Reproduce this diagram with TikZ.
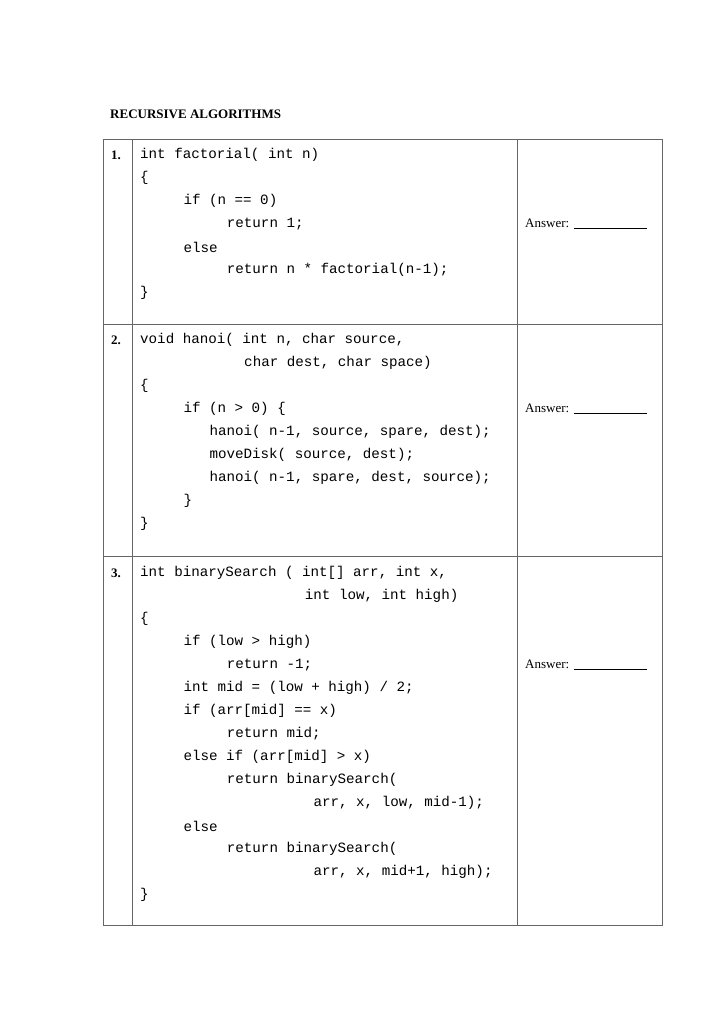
\documentclass[tikz,border=0pt]{standalone}
\usepackage{fontspec}
\setmainfont{Liberation Serif}
\setmonofont{Liberation Mono}
\newcommand{\cl}[4]{\node[code] (#1) at ({140+8.67*#2},#3) {#4};}
\begin{document}
\begin{tikzpicture}[x=1pt,y=-1pt,
  code/.style={anchor=west,inner sep=0pt,font=\fontsize{14.2}{14.2}\selectfont\ttfamily},
  lab/.style={anchor=west,inner sep=0pt,font=\fontsize{13}{13}\selectfont\bfseries},
  ans/.style={anchor=west,inner sep=0pt,font=\fontsize{13}{13}\selectfont},
  grid/.style={draw=black!60,line width=0.6pt}]
\useasboundingbox (0,0) rectangle (724,1024);
\node[lab,anchor=west] (title) at (110,114) {RECURSIVE ALGORITHMS};
\draw[grid] (103,139) rectangle (662,925);
\draw[grid] (132,139) -- (132,925);
\draw[grid] (517,139) -- (517,925);
\draw[grid] (103,324) -- (662,324);
\draw[grid] (103,556) -- (662,556);
\node[lab] (n1) at (111,155) {1.};
\node[lab] (n2) at (111,340) {2.};
\node[lab] (n3) at (111,573) {3.};
\node[ans] (a1) at (525,224) {Answer: \underline{\hspace{73pt}}};
\node[ans] (a2) at (525,409) {Answer: \underline{\hspace{73pt}}};
\node[ans] (a3) at (525,665) {Answer: \underline{\hspace{73pt}}};
% row 1
\cl{r1a}{0}{155}{int factorial( int n)}
\cl{r1b}{0}{178}{\{}
\cl{r1c}{5}{201}{if (n == 0)}
\cl{r1d}{10}{224}{return 1;}
\cl{r1e}{5}{247}{else}
\cl{r1f}{10}{270}{return n * factorial(n-1);}
\cl{r1g}{0}{293}{\}}
% row 2
\cl{r2a}{0}{340}{void hanoi( int n, char source,}
\cl{r2b}{12}{363}{char dest, char space)}
\cl{r2c}{0}{386}{\{}
\cl{r2d}{5}{409}{if (n > 0) \{}
\cl{r2e}{8}{432}{hanoi( n-1, source, spare, dest);}
\cl{r2f}{8}{455}{moveDisk( source, dest);}
\cl{r2g}{8}{478}{hanoi( n-1, spare, dest, source);}
\cl{r2h}{5}{501}{\}}
\cl{r2i}{0}{524}{\}}
% row 3
\cl{r3a}{0}{573}{int binarySearch ( int[] arr, int x,}
\cl{r3b}{19}{596}{int low, int high)}
\cl{r3c}{0}{619}{\{}
\cl{r3d}{5}{642}{if (low > high)}
\cl{r3e}{10}{665}{return -1;}
\cl{r3f}{5}{688}{int mid = (low + high) / 2;}
\cl{r3g}{5}{711}{if (arr[mid] == x)}
\cl{r3h}{10}{734}{return mid;}
\cl{r3i}{5}{757}{else if (arr[mid] > x)}
\cl{r3j}{10}{780}{return binarySearch(}
\cl{r3k}{20}{803}{arr, x, low, mid-1);}
\cl{r3l}{5}{826}{else}
\cl{r3m}{10}{849}{return binarySearch(}
\cl{r3n}{20}{872}{arr, x, mid+1, high);}
\cl{r3o}{0}{895}{\}}
\end{tikzpicture}
\end{document}
